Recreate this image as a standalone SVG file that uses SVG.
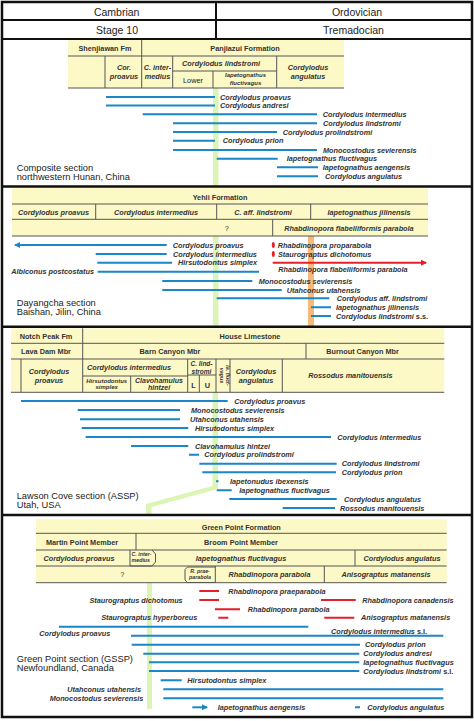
<svg xmlns="http://www.w3.org/2000/svg" width="474" height="721" viewBox="0 0 474 721">
<style>
.sp{font-family:"Liberation Sans",Arial,sans-serif;font-size:7.3px;font-style:italic;font-weight:bold;fill:#333}
.nr{font-style:normal}
.hd{font-family:"Liberation Sans",Arial,sans-serif;font-size:7.3px;font-weight:bold;fill:#333}
.hz{font-family:"Liberation Sans",Arial,sans-serif;font-size:7.3px;font-weight:bold;font-style:italic;fill:#333}
.sm{font-family:"Liberation Sans",Arial,sans-serif;font-size:5.3px;font-weight:bold;font-style:italic;fill:#333}
.lab{font-family:"Liberation Sans",Arial,sans-serif;font-size:9.3px;fill:#222}
.top{font-family:"Liberation Sans",Arial,sans-serif;font-size:10.5px;fill:#222;text-anchor:middle}
.c{text-anchor:middle}
.e{text-anchor:end}
.yb{fill:#fcf9c6}
.gr{stroke:#555;stroke-width:1;fill:none}
.b{stroke:#1b86c8;stroke-width:2;fill:none}
.r{stroke:#e5202a;stroke-width:2;fill:none}
.gband{fill:#dcf5b4}
.oband{fill:#f8b878}
</style>
<defs>
<marker id="ab" viewBox="0 0 6 6" refX="5" refY="3" markerWidth="3" markerHeight="3" orient="auto"><path d="M0,0 L6,3 L0,6 Z" fill="#1b86c8"/></marker>
<marker id="ar" viewBox="0 0 6 6" refX="5" refY="3" markerWidth="3" markerHeight="3" orient="auto"><path d="M0,0 L6,3 L0,6 Z" fill="#e5202a"/></marker>
</defs>
<rect x="0" y="0" width="474" height="721" fill="#fff"/>

<!-- bands -->
<g id="bands">
<rect class="gband" x="213" y="88" width="5.5" height="98"/>
<rect class="gband" x="213" y="236" width="5.5" height="91"/>
<rect class="oband" x="308" y="236" width="6" height="91"/>
<path class="gband" d="M212.5,392 H218 V489 L151.5,507 V515 H146 V504 L212.5,486 Z"/>
<rect class="gband" x="147" y="583" width="5" height="126"/>
</g>

<!-- top header -->
<g id="timescale">
<text class="top" x="116.7" y="16">Cambrian</text>
<text class="top" x="357" y="16">Ordovician</text>
<text class="top" x="117" y="34.3">Stage 10</text>
<text class="top" x="353.5" y="34.3">Tremadocian</text>
</g>

<!-- Panel 1 -->
<g id="panel-hunan">
<rect class="yb" x="68" y="40" width="276" height="48"/>
<path class="gr" d="M68,56 H344 M68,88 H344 M141.7,40 V88 M105,56 V88 M172.7,56 V88 M276.7,56 V88 M172.7,71 H276.7 M213,71 V88"/>
<text class="hd c" x="105" y="51">Shenjiawan Fm</text>
<text class="hd c" x="245" y="51">Panjiazui Formation</text>
<text class="hz c" x="124" y="70.3">Cor.</text>
<text class="hz c" x="124" y="78.6">proavus</text>
<text class="hz c" x="157.5" y="70.3">C. inter-</text>
<text class="hz c" x="157.5" y="78.6">medius</text>
<text class="hz c" x="221" y="66">Cordylodus lindstromi</text>
<text class="hd c" x="193" y="83" style="font-weight:normal;fill:#222">Lower</text>
<text class="hz c" x="245.5" y="77.3" style="font-size:6px">Iapetognathus</text>
<text class="hz c" x="245.5" y="84.6" style="font-size:6px">fluctivagus</text>
<text class="hz c" x="308" y="70.3">Cordylodus</text>
<text class="hz c" x="308" y="78.6">angulatus</text>
<text class="lab" x="16.7" y="170.5">Composite section</text>
<text class="lab" x="16.7" y="179.5">northwestern Hunan, China</text>
</g>

<!-- Panel 2 -->
<g id="panel-dayangcha">
<rect class="yb" x="12" y="188" width="416" height="48"/>
<path class="gr" d="M12,204 H428 M12,219.3 H428 M12,236 H428 M95.7,204 V219.3 M216.7,204 V219.3 M310.7,204 V219.3 M272.7,219.3 V236"/>
<text class="hd c" x="220" y="200">Yehli Formation</text>
<text class="hz c" x="53.5" y="214.5">Cordylodus proavus</text>
<text class="hz c" x="156" y="214.5">Cordylodus intermedius</text>
<text class="hz c" x="263" y="214.5">C. aff. lindstromi</text>
<text class="hz c" x="369" y="214.5">Iapetognathus jilinensis</text>
<text class="hd c" x="226.7" y="230.5" style="font-weight:normal">?</text>
<text class="hz c" x="349" y="230.5">Rhabdinopora flabelliformis parabola</text>
<text class="lab" x="16.7" y="305.5">Dayangcha section</text>
<text class="lab" x="16.7" y="315">Baishan, Jilin, China</text>
</g>

<!-- Panel 3 -->
<g id="panel-lawson">
<rect class="yb" x="11" y="328.3" width="433.3" height="64"/>
<path class="gr" d="M11,343.3 H444.3 M11,359 H444.3 M11,392.3 H444.3 M82.7,328.3 V392.3 M306,343.3 V359 M21,359 V392.3 M187.7,359 V392.3 M216,359 V392.3 M230,359 V392.3 M282.3,359 V392.3 M82.7,376 H187.7 M130.7,376 V392.3 M187.7,375 H216 M199.3,375 V392.3"/>
<text class="hd c" x="46" y="338.5">Notch Peak Fm</text>
<text class="hd c" x="250" y="338.5">House Limestone</text>
<text class="hd c" x="46" y="354">Lava Dam Mbr</text>
<text class="hd c" x="170" y="354">Barn Canyon Mbr</text>
<text class="hd c" x="362.5" y="354">Burnout Canyon Mbr</text>
<text class="hz c" x="49" y="373.5">Cordylodus</text>
<text class="hz c" x="49" y="382.5">proavus</text>
<text class="hz c" x="129" y="370">Cordylodus intermedius</text>
<text class="sm c" x="106.7" y="383" style="font-size:6px">Hirsutodontus</text>
<text class="sm c" x="106.7" y="388.5" style="font-size:6px">simplex</text>
<text class="hz c" x="159" y="383.3" style="font-size:7px">Clavohamulus</text>
<text class="hz c" x="159" y="389.5" style="font-size:7px">hintzei</text>
<text class="hz c" x="201.5" y="366" style="font-size:6.5px">C. lind-</text>
<text class="hz c" x="201.5" y="373.5" style="font-size:6.5px">stromi</text>
<text class="hd c" x="193.5" y="387.5">L</text>
<text class="hd c" x="207.5" y="387.5">U</text>
<text class="sm c" transform="translate(225.5,375.5) rotate(90)">Ia. fluct-</text>
<text class="sm c" transform="translate(220,375.5) rotate(90)">vagus</text>
<text class="hz c" x="256" y="374">Cordylodus</text>
<text class="hz c" x="256" y="382.5">angulatus</text>
<text class="hz c" x="350.5" y="378">Rossodus  manitouensis</text>
<text class="lab" x="16.7" y="499">Lawson  Cove section (ASSP)</text>
<text class="lab" x="16.7" y="507.5">Utah, USA</text>
</g>

<!-- Panel 4 -->
<g id="panel-greenpoint">
<rect class="yb" x="36" y="519.3" width="410.7" height="63.4"/>
<path class="gr" d="M36,533.3 H446.7 M36,550 H446.7 M36,566 H446.7 M36,582.7 H446.7 M136,533.3 V550 M355,550 V566 M215.3,566 V582.7 M324.3,566 V582.7"/>
<path class="gr" d="M130,550 V566 H152 L155.5,562 V554 L152,550"/>
<path class="gr" d="M215.3,567 H187.5 L185,569.5 V580 L187.5,582.5 H215.3"/>
<text class="hd c" x="241.3" y="529.5">Green Point Formation</text>
<text class="hd c" x="82" y="544.5">Martin Point Member</text>
<text class="hd c" x="241" y="544.5">Broom Point Member</text>
<text class="hz c" x="79" y="560.6">Cordylodus proavus</text>
<text class="sm" x="131.5" y="556.3">C. inter-</text>
<text class="sm" x="131.5" y="561.8">medius</text>
<text class="hz c" x="241" y="560.6">Iapetognathus fluctivagus</text>
<text class="hz c" x="402" y="560.6">Cordylodus angulatus</text>
<text class="hd c" x="122.3" y="577" style="font-weight:normal">?</text>
<text class="sm c" x="200" y="573">R. prae-</text>
<text class="sm c" x="200" y="578.5">parabola</text>
<text class="hz c" x="269.5" y="577">Rhabdinopora parabola</text>
<text class="hz c" x="386" y="577">Anisograptus matanensis</text>
<text class="lab" x="16.7" y="661.5">Green Point section (GSSP)</text>
<text class="lab" x="16.7" y="670.5">Newfoundland, Canada</text>
</g>

<!-- range lines (connectors) -->
<g id="connectors">
<path class="b" d="M106,97 H215 M106,105.5 H215 M142.7,114.3 H317 M173,123.3 H317 M173,132 H277 M173,140.7 H215 M173,150 H317 M216.7,158.7 H277.7 M277,167.3 H318 M277,176.3 H318"/>
<path class="b" d="M166.7,245 H15" marker-end="url(#ab)"/>
<path class="b" d="M95.7,254 H166.7 M97.3,262.7 H172 M97.7,271.7 H259 M162.3,281 H252.3 M162.3,290 H281.7 M216.7,298.3 H329.3 M311,307.3 H331 M311,316 H331"/>
<ellipse cx="273.3" cy="245" rx="1.5" ry="3" fill="#e5202a"/>
<ellipse cx="273.3" cy="254" rx="1.5" ry="3" fill="#e5202a"/>
<path class="r" d="M272.7,262.7 H426" marker-end="url(#ar)"/>
<path class="b" d="M21,401 H227.7 M77.7,410 H180 M80,419.3 H180 M81.7,428 H188.3 M85.7,437 H331 M131,446 H188.3 M189,454.7 H199 M199.3,463.7 H336.7 M202.3,472.3 H336 M216,481.3 H218.5 M216.7,490.3 H231.7 M229.3,499 H336.7 M282.7,508 H335"/>
<path class="r" d="M199.3,591 H219 M199.3,600 H219 M321,600 H355.7 M215,609.3 H240 M218.3,617.7 H228.3 M324.3,617.7 H354.3"/>
<path class="b" d="M59,626.7 H308.3 M131,635.7 H443.3 M131.7,644.7 H360 M143.3,653.7 H359.3 M149,662.3 H359.3 M149,671 H359.3 M160.7,680.3 H181.7 M163.3,689.3 H443.3 M163.3,698.3 H443.3 M355,707.3 H360"/>
<path class="b" d="M192.3,707.3 H207" marker-end="url(#ab)"/>
</g>

<!-- range labels -->
<g id="labels">
<text class="sp" x="220" y="99.6">Cordylodus proavus</text>
<text class="sp" x="220" y="108.1">Cordylodus andresi</text>
<text class="sp" x="322.7" y="116.9">Cordylodus intermedius</text>
<text class="sp" x="323" y="125.9">Cordylodus lindstromi</text>
<text class="sp" x="282.7" y="134.6">Cordylodus prolindstromi</text>
<text class="sp" x="222.7" y="143.3">Cordylodus prion</text>
<text class="sp" x="323" y="152.6">Monocostodus sevierensis</text>
<text class="sp" x="286.7" y="161.3">Iapetognathus fluctivagus</text>
<text class="sp" x="322.7" y="169.9">Iapetognathus aengensis</text>
<text class="sp" x="325" y="178.9">Cordylodus angulatus</text>

<text class="sp" x="172.7" y="247.6">Cordylodus proavus</text>
<text class="sp" x="173" y="256.6">Cordylodus intermedius</text>
<text class="sp" x="178" y="265.3">Hirsutodontus simplex</text>
<text class="sp e" x="94" y="274.3">Albiconus postcostatus</text>
<text class="sp" x="258.7" y="283.6">Monocostodus sevierensis</text>
<text class="sp" x="286.7" y="292.6">Utahconus utahensis</text>
<text class="sp" x="336.7" y="300.9">Cordylodus aff. lindstromi</text>
<text class="sp" x="336" y="309.9">Iapetognathus jilinensis</text>
<text class="sp" x="336" y="318.6">Cordylodus lindstromi<tspan class="nr"> s.s.</tspan></text>
<text class="sp" x="277.7" y="247.6">Rhabdinopora proparabola</text>
<text class="sp" x="278" y="256.6">Staurograptus dichotomus</text>
<text class="sp" x="278.3" y="271.5">Rhabdinopora flabelliformis parabola</text>

<text class="sp" x="234.3" y="403.6">Cordylodus proavus</text>
<text class="sp" x="191" y="412.6">Monocostodus sevierensis</text>
<text class="sp" x="190" y="421.9">Utahconus utahensis</text>
<text class="sp" x="195" y="430.6">Hirsutodontus simplex</text>
<text class="sp" x="337.3" y="439.6">Cordylodus intermedius</text>
<text class="sp" x="195" y="448.6">Clavohamulus hintzei</text>
<text class="sp" x="204.3" y="457.3">Cordylodus prolindstromi</text>
<text class="sp" x="341.7" y="466.3">Cordylodus lindstromi</text>
<text class="sp" x="341.7" y="474.9">Cordylodus prion</text>
<text class="sp" x="230" y="483.9">Iapetonudus ibexensis</text>
<text class="sp" x="239.3" y="492.9">Iapetognathus fluctivagus</text>
<text class="sp" x="344" y="501.6">Cordylodus angulatus</text>
<text class="sp" x="340" y="510.6">Rossodus manitouensis</text>

<text class="sp" x="228.3" y="593.6">Rhabdinopora praeparabola</text>
<text class="sp e" x="182.7" y="602.6">Staurograptus dichotomus</text>
<text class="sp" x="362.3" y="602.6">Rhabdinopora canadensis</text>
<text class="sp" x="247.7" y="611.9">Rhabdinopora parabola</text>
<text class="sp e" x="197.3" y="620.3">Staurograptus hyperboreus</text>
<text class="sp" x="361" y="620.3">Anisograptus matanensis</text>
<text class="sp" x="39.3" y="636.3">Cordylodus proavus</text>
<text class="sp" x="331" y="633.5">Cordylodus intermedius<tspan class="nr"> s.l.</tspan></text>
<text class="sp" x="365" y="647.3">Cordylodus prion</text>
<text class="sp" x="363.3" y="656.3">Cordylodus andresi</text>
<text class="sp" x="363.3" y="664.9">Iapetognathus fluctivagus</text>
<text class="sp" x="363.3" y="673.6">Cordylodus lindstromi<tspan class="nr"> s.l.</tspan></text>
<text class="sp" x="187.3" y="682.9">Hirsutodontus simplex</text>
<text class="sp e" x="141" y="691.9">Utahconus utahensis</text>
<text class="sp e" x="143.3" y="700.9">Monocostodus sevierensis</text>
<text class="sp" x="217.7" y="709.9">Iapetognathus aengensis</text>
<text class="sp" x="367.3" y="709.9">Cordylodus angulatus</text>
</g>

<!-- frame -->
<g id="frame" fill="none" stroke="#111">
<rect x="2" y="2" width="470" height="715" stroke-width="2.5"/>
<path d="M2,20 H472 M2,39 H472 M216,2 V39" stroke-width="2"/>
<path d="M2,186.5 H472 M2,326.7 H472 M2,515 H472" stroke-width="2.5"/>
</g>
</svg>
